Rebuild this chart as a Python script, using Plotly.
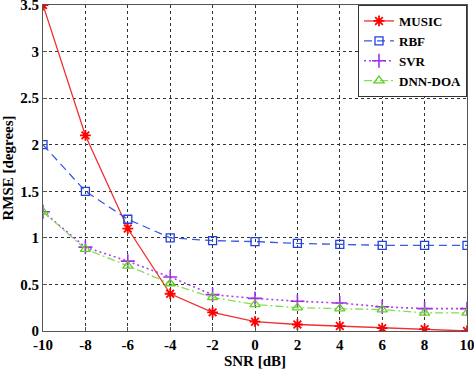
import plotly.graph_objects as go

snr = [-10, -8, -6, -4, -2, 0, 2, 4, 6, 8, 10]
music = [3.5, 2.1, 1.1, 0.4, 0.2, 0.10, 0.07, 0.053, 0.03, 0.02, 0.0]
rbf = [2.0, 1.5, 1.2, 1.0, 0.97, 0.96, 0.94, 0.93, 0.92, 0.92, 0.92]
svr = [1.28, 0.90, 0.75, 0.58, 0.39, 0.35, 0.32, 0.30, 0.26, 0.24, 0.24]
dnn = [1.28, 0.88, 0.70, 0.51, 0.36, 0.285, 0.25, 0.24, 0.23, 0.195, 0.195]

y_ticks = [0, 0.5, 1, 1.5, 2, 2.5, 3, 3.5]
y_tick_labels = ["0", "0.5", "1", "1.5", "2", "2.5", "3", "3.5"]
x_ticks = snr
x_tick_labels = [str(v) for v in snr]

font = "Liberation Serif"

fig = go.Figure()
fig.add_trace(go.Scatter(x=snr, y=music, name="<b>MUSIC</b>", mode="lines+markers",
                         line=dict(color="#f03030", width=1.3, dash="solid"),
                         marker=dict(symbol="asterisk-open", size=9, color="#ff0000",
                                     line=dict(color="#ff0000", width=1.8))))
fig.add_trace(go.Scatter(x=snr, y=rbf, name="<b>RBF</b>", mode="lines+markers",
                         line=dict(color="#3a5ae0", width=1.3, dash="8px,5px"),
                         marker=dict(symbol="square-open", size=8, color="#2040e0",
                                     line=dict(color="#2040e0", width=1.3))))
fig.add_trace(go.Scatter(x=snr, y=svr, name="<b>SVR</b>", mode="lines+markers",
                         line=dict(color="#b040f0", width=1.6, dash="2px,3px"),
                         marker=dict(symbol="cross-thin-open", size=10, color="#a030e8",
                                     line=dict(color="#a030e8", width=1.6))))
fig.add_trace(go.Scatter(x=snr, y=dnn, name="<b>DNN-DOA</b>", mode="lines+markers",
                         line=dict(color="#80e050", width=1.3, dash="8px,3px,2px,3px"),
                         marker=dict(symbol="triangle-up-open", size=9, color="#60d020",
                                     line=dict(color="#60d020", width=1.3))))

axis_common = dict(showgrid=True, gridcolor="#333333", griddash="dot", gridwidth=1,
                   showline=True, linecolor="#555555", linewidth=1.2, mirror=True,
                   ticks="inside", ticklen=4, tickcolor="#555555", zeroline=False,
                   ticklabeloverflow="allow", automargin=False,
                   tickfont=dict(family=font, size=15, color="black"))

fig.update_xaxes(range=[-10, 10], tickvals=x_ticks, ticktext=["<b>%s</b>" % t for t in x_tick_labels],
                 ticklabelstandoff=0,
                 title=dict(text="<b>SNR [dB]</b>", font=dict(family=font, size=15, color="black"), standoff=0),
                 **axis_common)
fig.update_yaxes(range=[0, 3.5], tickvals=y_ticks, ticktext=["<b>%s</b>" % t for t in y_tick_labels],
                 title=dict(text="<b>RMSE [degrees]</b>", font=dict(family=font, size=15, color="black"), standoff=4),
                 **axis_common)

fig.update_layout(width=474, height=372, margin=dict(l=43, r=7, t=5, b=41),
                  paper_bgcolor="white", plot_bgcolor="white",
                  font=dict(family=font, color="black"),
                  legend=dict(x=1, y=1, xanchor="right", yanchor="top",
                              bgcolor="white", bordercolor="#333333", borderwidth=1,
                              font=dict(family=font, size=13, color="black"),
                              tracegroupgap=0, itemwidth=30),
                  showlegend=True)

fig.write_html("out.html", config={"displayModeBar": False},
               post_script="document.body.style.margin='0px';")
